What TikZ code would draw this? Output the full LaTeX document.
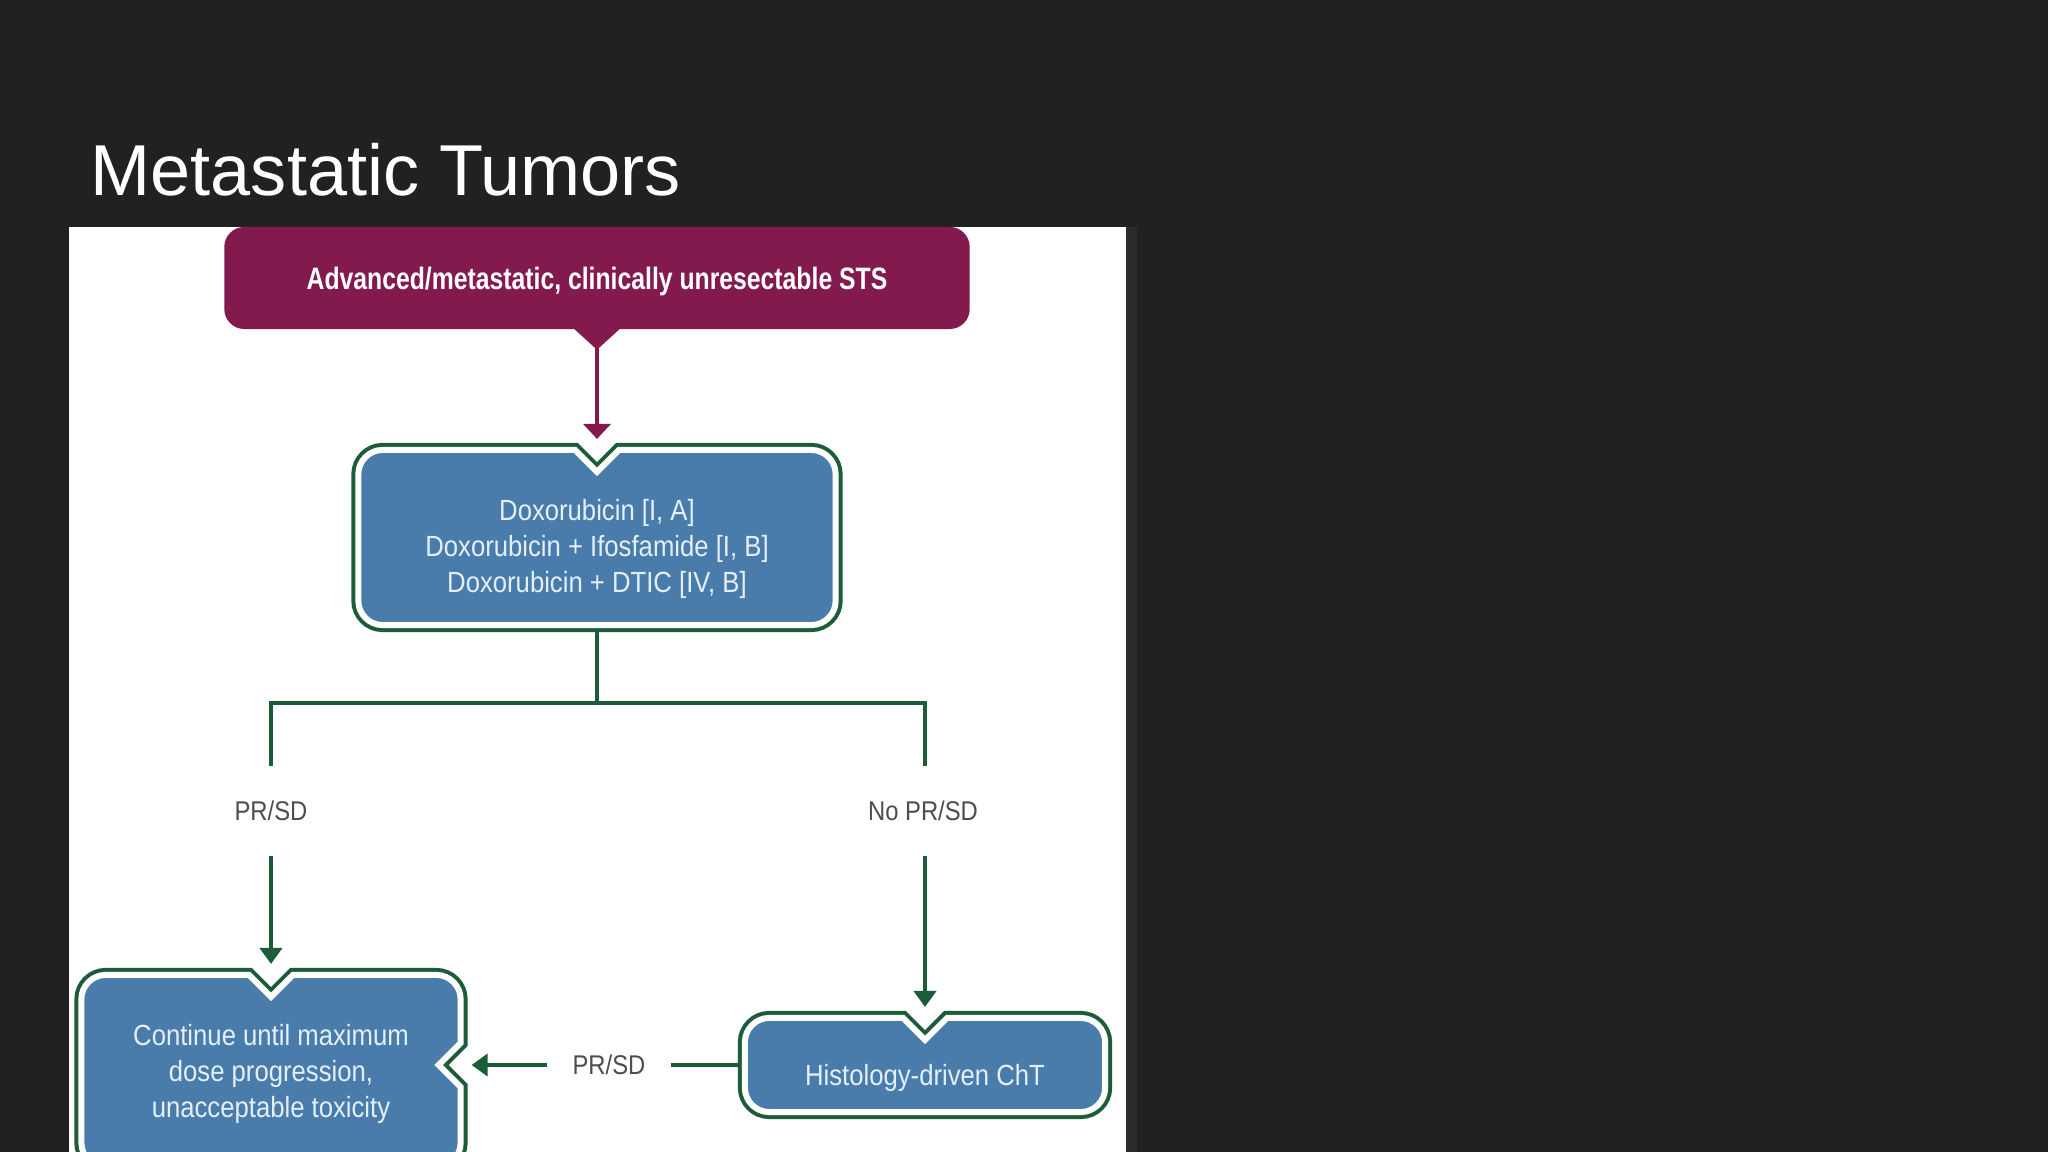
\documentclass[tikz,border=0pt]{standalone}
\usepackage{fontspec}
\setmainfont{Liberation Sans}
\newfontfamily\condf[FakeStretch=0.88]{Liberation Sans}
\newfontfamily\condbf[FakeStretch=0.8]{Liberation Sans Bold}
\usetikzlibrary{arrows.meta,calc}
\definecolor{bg}{HTML}{212121}
\definecolor{stripc}{HTML}{2C2C2C}
\definecolor{mag}{HTML}{821A4E}
\definecolor{dgreen}{HTML}{1D5C3A}
\definecolor{bblue}{HTML}{4A7CAB}
\definecolor{btxt}{HTML}{E3EFFA}
\definecolor{lgrey}{HTML}{4A4F4C}
% path of a rounded box with a V notch on top
\newcommand\notchpath[1]{let \p1=(#1.north west), \p2=(#1.south east), \p3=(#1.north) in
 (\x3-0.22cm,\y1) -- (\x3,\y1-0.22cm) -- (\x3+0.22cm,\y1) -- (\x2-0.24cm,\y1)
 .. controls (\x2-0.11cm,\y1) and (\x2,\y1-0.11cm) .. (\x2,\y1-0.24cm) -- (\x2,\y2+0.24cm)
 .. controls (\x2,\y2+0.11cm) and (\x2-0.11cm,\y2) .. (\x2-0.24cm,\y2) -- (\x1+0.24cm,\y2)
 .. controls (\x1+0.11cm,\y2) and (\x1,\y2+0.11cm) .. (\x1,\y2+0.24cm) -- (\x1,\y1-0.24cm)
 .. controls (\x1,\y1-0.11cm) and (\x1+0.11cm,\y1) .. (\x1+0.24cm,\y1) -- cycle}
% same, with a second notch on the right side at the height of #2
\newcommand\notchpathR[2]{let \p1=(#1.north west), \p2=(#1.south east), \p3=(#1.north), \p4=(#2) in
 (\x3-0.22cm,\y1) -- (\x3,\y1-0.22cm) -- (\x3+0.22cm,\y1) -- (\x2-0.24cm,\y1)
 .. controls (\x2-0.11cm,\y1) and (\x2,\y1-0.11cm) .. (\x2,\y1-0.24cm)
 -- (\x2,\y4+0.22cm) -- (\x2-0.22cm,\y4) -- (\x2,\y4-0.22cm) -- (\x2,\y2+0.24cm)
 .. controls (\x2,\y2+0.11cm) and (\x2-0.11cm,\y2) .. (\x2-0.24cm,\y2) -- (\x1+0.24cm,\y2)
 .. controls (\x1+0.11cm,\y2) and (\x1,\y2+0.11cm) .. (\x1,\y2+0.24cm) -- (\x1,\y1-0.24cm)
 .. controls (\x1,\y1-0.11cm) and (\x1+0.11cm,\y1) .. (\x1+0.24cm,\y1) -- cycle}
\newcommand\drawnbox[1]{\draw[gout] #1; \fill[bfill] #1; \draw[wline] #1;}
\begin{document}
\begin{tikzpicture}[x=0.01cm,y=-0.01cm,
  gline/.style={draw=dgreen, line width=0.04cm},
  garrow/.style={gline, -{Triangle[width=0.22cm,length=0.16cm]}},
  magarrow/.style={draw=mag, line width=0.04cm, -{Triangle[width=0.27cm,length=0.15cm]}},
  boxnode/.style={draw=none, inner sep=0pt, outer sep=0pt},
  gout/.style={draw=dgreen, line width=0.14cm, line join=miter},
  bfill/.style={fill=bblue},
  wline/.style={draw=white, line width=0.06cm, line join=miter},
  btext/.style={text=btxt, inner sep=0pt, align=center, font=\condf\fontsize{8.3pt}{10.2pt}\selectfont},
  lbl/.style={text=lgrey, inner sep=0pt, font=\condf\fontsize{7.7pt}{9pt}\selectfont},
  toptext/.style={fill=mag, text=white, rounded corners=0.2cm, inner sep=0pt,
    text height=0.22cm, text depth=0cm,
    font=\condbf\fontsize{8.8pt}{10pt}\selectfont},
  titletext/.style={text=white, inner sep=0pt, anchor=base west, font=\fontsize{20.5pt}{25pt}\selectfont}]
\fill[bg] (0,0) rectangle (2048,1152);
\useasboundingbox (0,0) rectangle (2048,1152);
\fill[stripc] (1126,227) rectangle (1137,1152);
\node[titletext] (title) at (90,196) {Metastatic Tumors};
\begin{scope}
\clip (69,227) rectangle (1126,1152);
\fill[white] (69,227) rectangle (1126,1152);
% nodes
\node[toptext, minimum width=7.45cm, minimum height=1.02cm] (top) at (597,278) {Advanced/metastatic, clinically unresectable STS};
\node[boxnode, minimum width=4.77cm, minimum height=1.75cm] (b2) at (597,537.5) {};
\node[boxnode, minimum width=3.79cm, minimum height=1.92cm] (b3) at (271,1071) {};
\node[boxnode, minimum width=3.60cm, minimum height=0.94cm] (b4) at (925,1065) {};
\node[lbl, minimum height=0.88cm] (l1) at (271,811) {PR/SD};
\node[lbl, minimum height=0.88cm] (l2) at (923,811) {No PR/SD};
\node[lbl, minimum width=1.22cm] (l3) at (609,1065) {PR/SD};
\coordinate (j) at (597,703);
% connectors
\fill[mag] ($(top.south)+(-23,-1)$) -- ($(top.south)+(23,-1)$) -- ($(top.south)+(0,20)$) -- cycle;
\draw[magarrow] ($(top.south)+(0,15)$) -- ($(b2.north)+(0,-11)$);
\draw[gline] (b2.south) -- (j);
\draw[gline] (j) -| (l1.north);
\draw[gline] (j) -| (b4.north |- l2.north);
\draw[garrow] (l1.south) -- ($(b3.north)+(0,-11)$);
\draw[garrow] (b4.north |- l2.south) -- ($(b4.north)+(0,-11)$);
\draw[gline] (b4.west) -- (l3.east);
\draw[garrow] (l3.west) -- ($(b3.east |- l3.west)+(11,0)$);
% boxes
\drawnbox{\notchpath{b2}}
\drawnbox{\notchpathR{b3}{l3.west}}
\drawnbox{\notchpath{b4}}
% texts
\node[btext] (b2t) at (597,549) {Doxorubicin [I, A]\\Doxorubicin + Ifosfamide [I, B]\\Doxorubicin + DTIC [IV, B]};
\node[btext] (b3t) at (271,1074) {Continue until maximum\\dose progression,\\unacceptable toxicity};
\node[btext] (b4t) at (925,1078) {Histology-driven ChT};
\end{scope}
\end{tikzpicture}
\end{document}
